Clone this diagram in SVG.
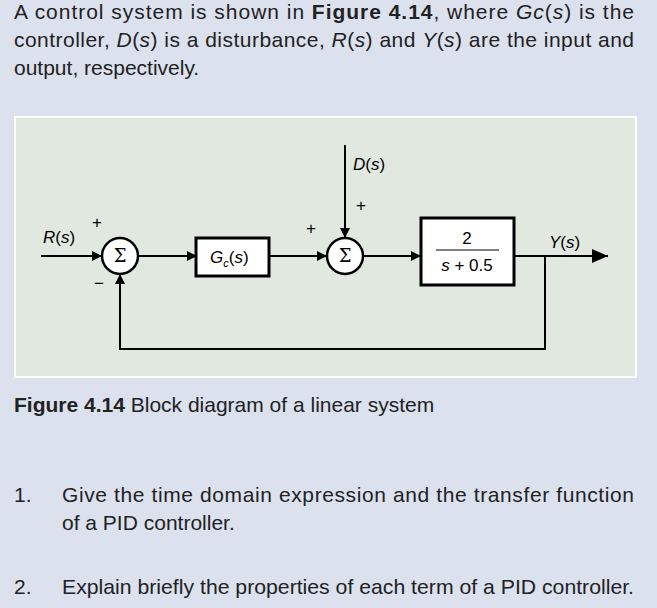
<svg xmlns="http://www.w3.org/2000/svg" width="657" height="608" viewBox="0 0 657 608">
<defs>
<marker id="ah" markerWidth="10" markerHeight="10" refX="9" refY="5" orient="auto" markerUnits="userSpaceOnUse"><path d="M0,0 L10,5 L0,10 z" fill="#000"/></marker>
<marker id="big" markerWidth="16" markerHeight="14" refX="16" refY="7" orient="auto" markerUnits="userSpaceOnUse"><path d="M0,0 L16,7 L0,14 z" fill="#000"/></marker>
</defs>
<style>
.t{font-family:"Liberation Sans",Arial,sans-serif;fill:#222;font-size:21px}
.d{font-family:"Liberation Sans",Arial,sans-serif;fill:#000;font-size:17px}
.w{stroke:#000;stroke-width:2;fill:none}
.b{stroke:#000;stroke-width:3;fill:#fff}
.s{font-family:"DejaVu Serif",serif;font-size:18px;fill:#000}
</style>
<rect width="657" height="608" fill="#dce1ee"/>
<text class="t" x="14" y="19" textLength="620" lengthAdjust="spacing">A control system is shown in <tspan font-weight="bold">Figure 4.14</tspan>, where <tspan font-style="italic">Gc</tspan>(<tspan font-style="italic">s</tspan>) is the</text>
<text class="t" x="14" y="47" textLength="620" lengthAdjust="spacing">controller, <tspan font-style="italic">D</tspan>(<tspan font-style="italic">s</tspan>) is a disturbance, <tspan font-style="italic">R</tspan>(<tspan font-style="italic">s</tspan>) and <tspan font-style="italic">Y</tspan>(<tspan font-style="italic">s</tspan>) are the input and</text>
<text class="t" x="14" y="75">output, respectively.</text>
<rect x="15" y="117" width="621" height="260" fill="#e0e8e0" stroke="#fff" stroke-width="2"/>
<g id="connectors" class="w">
<line x1="41" y1="256" x2="101" y2="256" marker-end="url(#ah)"/>
<line x1="139" y1="256" x2="196" y2="256" marker-end="url(#ah)"/>
<line x1="269" y1="256" x2="326" y2="256" marker-end="url(#ah)"/>
<line x1="345" y1="145" x2="345" y2="237" marker-end="url(#ah)"/>
<line x1="364" y1="256" x2="420" y2="256" marker-end="url(#ah)"/>
<line x1="514" y1="256" x2="608" y2="256" marker-end="url(#big)"/>
<polyline points="545,256 545,349 120,349 120,275" marker-end="url(#ah)"/>
</g>
<g id="sum1"><circle cx="120" cy="256" r="18" fill="#fff" stroke="#000" stroke-width="2.5"/><text class="s" x="120" y="262" text-anchor="middle">Σ</text></g>
<g id="gc"><rect class="b" x="196" y="238" width="73" height="38"/><text class="d" x="210" y="263" font-style="italic">G<tspan font-size="11" dy="4">c</tspan><tspan dy="-4" font-style="normal">(</tspan>s<tspan font-style="normal">)</tspan></text></g>
<g id="sum2"><circle cx="345" cy="256" r="18" fill="#fff" stroke="#000" stroke-width="2.5"/><text class="s" x="345" y="262" text-anchor="middle">Σ</text></g>
<g id="plant"><rect class="b" x="421" y="218" width="93" height="67"/><text class="d" x="467" y="244" text-anchor="middle">2</text><line x1="436" y1="250" x2="499" y2="250" stroke="#000" stroke-width="1"/><text class="d" x="467" y="271" text-anchor="middle"><tspan font-style="italic">s</tspan> + 0.5</text></g>
<g id="labels">
<text class="d" x="43" y="243"><tspan font-style="italic">R</tspan>(<tspan font-style="italic">s</tspan>)</text>
<text class="d" x="92" y="228">+</text>
<text class="d" x="94" y="289">−</text>
<text class="d" x="306" y="234">+</text>
<text class="d" x="356" y="211">+</text>
<text class="d" x="353" y="170"><tspan font-style="italic">D</tspan>(<tspan font-style="italic">s</tspan>)</text>
<text class="d" x="549" y="248"><tspan font-style="italic">Y</tspan>(<tspan font-style="italic">s</tspan>)</text>
</g>
<text class="t" x="14" y="412" font-size="17"><tspan font-weight="bold">Figure 4.14</tspan>  Block diagram of a linear system</text>
<text class="t" x="14" y="502">1.</text>
<text class="t" x="62" y="502" textLength="572" lengthAdjust="spacing">Give the time domain expression and the transfer function</text>
<text class="t" x="62" y="530">of a PID controller.</text>
<text class="t" x="14" y="594">2.</text>
<text class="t" x="62" y="594" textLength="572" lengthAdjust="spacingAndGlyphs">Explain briefly the properties of each term of a PID controller.</text>
</svg>
